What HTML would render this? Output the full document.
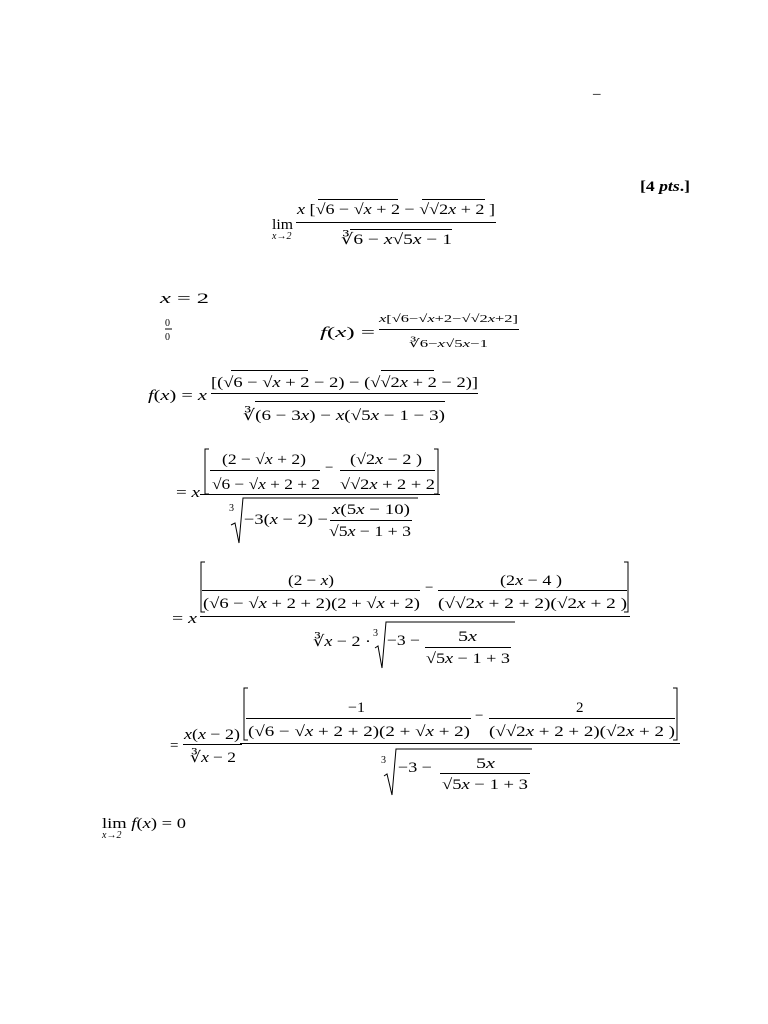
<!DOCTYPE html>
<html><head><meta charset="utf-8"><style>
html,body{margin:0;padding:0;background:#fff;width:768px;height:1024px;overflow:hidden}
svg{display:block}
text{font-family:"Liberation Serif","DejaVu Serif",serif;fill:#000;font-size:15px}
line,path{stroke:#000;stroke-width:1;fill:none}
.s{font-size:10px}
.m{font-size:11px}
</style></head><body>
<svg width="768" height="1024" viewBox="0 0 768 1024">
<text x="593" y="98">–</text>
<text x="640" y="191" font-weight="bold" textLength="50" lengthAdjust="spacingAndGlyphs">[4 <tspan font-style="italic">pts</tspan>.]</text>

<!-- limit -->
<text x="272" y="229" textLength="21" lengthAdjust="spacingAndGlyphs">lim</text>
<text x="272" y="239" class="s" font-style="italic">x→2</text>
<text x="297" y="214" textLength="198" lengthAdjust="spacingAndGlyphs"><tspan font-style="italic">x</tspan> [√6 − √<tspan font-style="italic">x</tspan> + 2 − √√2<tspan font-style="italic">x</tspan> + 2 ]</text>
<line x1="296" y1="222.5" x2="496" y2="222.5"/>
<line x1="318" y1="199.5" x2="398" y2="199.5"/><line x1="422" y1="199.5" x2="485" y2="199.5"/>
<text x="341" y="244" textLength="111" lengthAdjust="spacingAndGlyphs">∛6 − <tspan font-style="italic">x</tspan>√5<tspan font-style="italic">x</tspan> − 1</text>
<line x1="350" y1="229.5" x2="452" y2="229.5"/>

<text x="160" y="303" textLength="49" lengthAdjust="spacingAndGlyphs"><tspan font-style="italic">x</tspan> = 2</text>
<text x="165" y="326" class="s">0</text><line x1="165" y1="329" x2="172" y2="329"/><text x="165" y="340" class="s">0</text>

<text x="320" y="337" font-size="17" textLength="55" lengthAdjust="spacingAndGlyphs"><tspan font-style="italic">f</tspan>(<tspan font-style="italic">x</tspan>) =</text>
<text x="379" y="322" class="m" textLength="139" lengthAdjust="spacingAndGlyphs"><tspan font-style="italic">x</tspan>[√6−√<tspan font-style="italic">x</tspan>+2−√√2<tspan font-style="italic">x</tspan>+2]</text>
<line x1="379" y1="329.5" x2="519" y2="329.5"/>
<text x="409" y="347" class="m" textLength="79" lengthAdjust="spacingAndGlyphs">∛6−<tspan font-style="italic">x</tspan>√5<tspan font-style="italic">x</tspan>−1</text>

<!-- f(x) = x ... -->
<text x="148" y="400" textLength="59" lengthAdjust="spacingAndGlyphs"><tspan font-style="italic">f</tspan>(<tspan font-style="italic">x</tspan>) = <tspan font-style="italic">x</tspan></text>
<text x="211" y="387" font-size="17" textLength="267" lengthAdjust="spacingAndGlyphs">[(√6 − √<tspan font-style="italic">x</tspan> + 2 − 2) − (√√2<tspan font-style="italic">x</tspan> + 2  − 2)]</text>
<line x1="231" y1="370.5" x2="308" y2="370.5"/><line x1="381" y1="370.5" x2="434" y2="370.5"/>
<line x1="211" y1="393.5" x2="478" y2="393.5"/>
<text x="243" y="420" font-size="16" textLength="202" lengthAdjust="spacingAndGlyphs">∛(6 − 3<tspan font-style="italic">x</tspan>) − <tspan font-style="italic">x</tspan>(√5<tspan font-style="italic">x</tspan> − 1 − 3)</text>
<line x1="255" y1="401.5" x2="445" y2="401.5"/>

<!-- block 2 -->
<text x="176" y="497" textLength="24" lengthAdjust="spacingAndGlyphs">= <tspan font-style="italic">x</tspan></text>
<path d="M209 449 H205 V494 H209 M434 449 H438 V494 H434"/>
<text x="222" y="464" textLength="84" lengthAdjust="spacingAndGlyphs">(2 − √<tspan font-style="italic">x</tspan> + 2)</text>
<line x1="210" y1="470.5" x2="320" y2="470.5"/>
<text x="212" y="489" textLength="108" lengthAdjust="spacingAndGlyphs">√6 − √<tspan font-style="italic">x</tspan> + 2 + 2</text>
<text x="325" y="472">−</text>
<text x="350" y="464" textLength="72" lengthAdjust="spacingAndGlyphs">(√2<tspan font-style="italic">x</tspan> − 2 )</text>
<line x1="340" y1="470.5" x2="435" y2="470.5"/>
<text x="340" y="489" textLength="95" lengthAdjust="spacingAndGlyphs">√√2<tspan font-style="italic">x</tspan> + 2  + 2</text>
<line x1="200" y1="494.5" x2="440" y2="494.5"/>
<text x="229" y="511" class="s">3</text>
<path d="M231 525 L235 523 L239 543 L243 498 H418"/>
<text x="244" y="524" textLength="84" lengthAdjust="spacingAndGlyphs">−3(<tspan font-style="italic">x</tspan> − 2) −</text>
<text x="332" y="514" textLength="78" lengthAdjust="spacingAndGlyphs"><tspan font-style="italic">x</tspan>(5<tspan font-style="italic">x</tspan> − 10)</text>
<line x1="330" y1="520.5" x2="412" y2="520.5"/>
<text x="329" y="536" textLength="82" lengthAdjust="spacingAndGlyphs">√5<tspan font-style="italic">x</tspan> − 1 + 3</text>

<!-- block 3 -->
<text x="172" y="623" textLength="25" lengthAdjust="spacingAndGlyphs">= <tspan font-style="italic">x</tspan></text>
<path d="M205 562 H201 V612 H205 M624 562 H628 V612 H624"/>
<text x="288" y="585" textLength="46" lengthAdjust="spacingAndGlyphs">(2 − <tspan font-style="italic">x</tspan>)</text>
<line x1="202" y1="590.5" x2="420" y2="590.5"/>
<text x="203" y="608" textLength="217" lengthAdjust="spacingAndGlyphs">(√6 − √<tspan font-style="italic">x</tspan> + 2 + 2)(2 + √<tspan font-style="italic">x</tspan> + 2)</text>
<text x="425" y="592">−</text>
<text x="500" y="585" textLength="62" lengthAdjust="spacingAndGlyphs">(2<tspan font-style="italic">x</tspan> − 4 )</text>
<line x1="438" y1="590.5" x2="627" y2="590.5"/>
<text x="438" y="608" textLength="189" lengthAdjust="spacingAndGlyphs">(√√2<tspan font-style="italic">x</tspan> + 2  + 2)(√2<tspan font-style="italic">x</tspan> + 2 )</text>
<line x1="200" y1="616.5" x2="630" y2="616.5"/>
<text x="313" y="646" textLength="58" lengthAdjust="spacingAndGlyphs">∛<tspan font-style="italic">x</tspan> − 2 ·</text>
<text x="373" y="636" class="s">3</text>
<path d="M375 648 L378 646 L382 668 L386 622 H515"/>
<text x="387" y="645" textLength="33" lengthAdjust="spacingAndGlyphs">−3 −</text>
<text x="458" y="641" textLength="19" lengthAdjust="spacingAndGlyphs">5<tspan font-style="italic">x</tspan></text>
<line x1="425" y1="647.5" x2="511" y2="647.5"/>
<text x="426" y="663" textLength="84" lengthAdjust="spacingAndGlyphs">√5<tspan font-style="italic">x</tspan> − 1 + 3</text>

<!-- block 4 -->
<text x="170" y="750">=</text>
<text x="184" y="739" textLength="56" lengthAdjust="spacingAndGlyphs"><tspan font-style="italic">x</tspan>(<tspan font-style="italic">x</tspan> − 2)</text>
<line x1="183" y1="744.5" x2="242" y2="744.5"/>
<text x="190" y="762" textLength="46" lengthAdjust="spacingAndGlyphs">∛<tspan font-style="italic">x</tspan> − 2</text>
<path d="M248 688 H244 V740 H248 M673 688 H677 V740 H673"/>
<text x="348" y="712" textLength="17" lengthAdjust="spacingAndGlyphs">−1</text>
<line x1="246" y1="718.5" x2="471" y2="718.5"/>
<text x="248" y="736" textLength="222" lengthAdjust="spacingAndGlyphs">(√6 − √<tspan font-style="italic">x</tspan> + 2 + 2)(2 + √<tspan font-style="italic">x</tspan> + 2)</text>
<text x="475" y="720">−</text>
<text x="576" y="712">2</text>
<line x1="489" y1="718.5" x2="675" y2="718.5"/>
<text x="489" y="736" textLength="186" lengthAdjust="spacingAndGlyphs">(√√2<tspan font-style="italic">x</tspan> + 2  + 2)(√2<tspan font-style="italic">x</tspan> + 2 )</text>
<line x1="240" y1="743.5" x2="680" y2="743.5"/>
<text x="381" y="763" class="s">3</text>
<path d="M384 776 L387 774 L392 795 L396 749 H532"/>
<text x="398" y="772" textLength="34" lengthAdjust="spacingAndGlyphs">−3 −</text>
<text x="476" y="768" textLength="19" lengthAdjust="spacingAndGlyphs">5<tspan font-style="italic">x</tspan></text>
<line x1="440" y1="773.5" x2="530" y2="773.5"/>
<text x="442" y="789" textLength="86" lengthAdjust="spacingAndGlyphs">√5<tspan font-style="italic">x</tspan> − 1 + 3</text>

<text x="102" y="828" textLength="84" lengthAdjust="spacingAndGlyphs">lim <tspan font-style="italic">f</tspan>(<tspan font-style="italic">x</tspan>) = 0</text>
<text x="102" y="838" class="s" font-style="italic">x→2</text>
</svg>
</body></html>
